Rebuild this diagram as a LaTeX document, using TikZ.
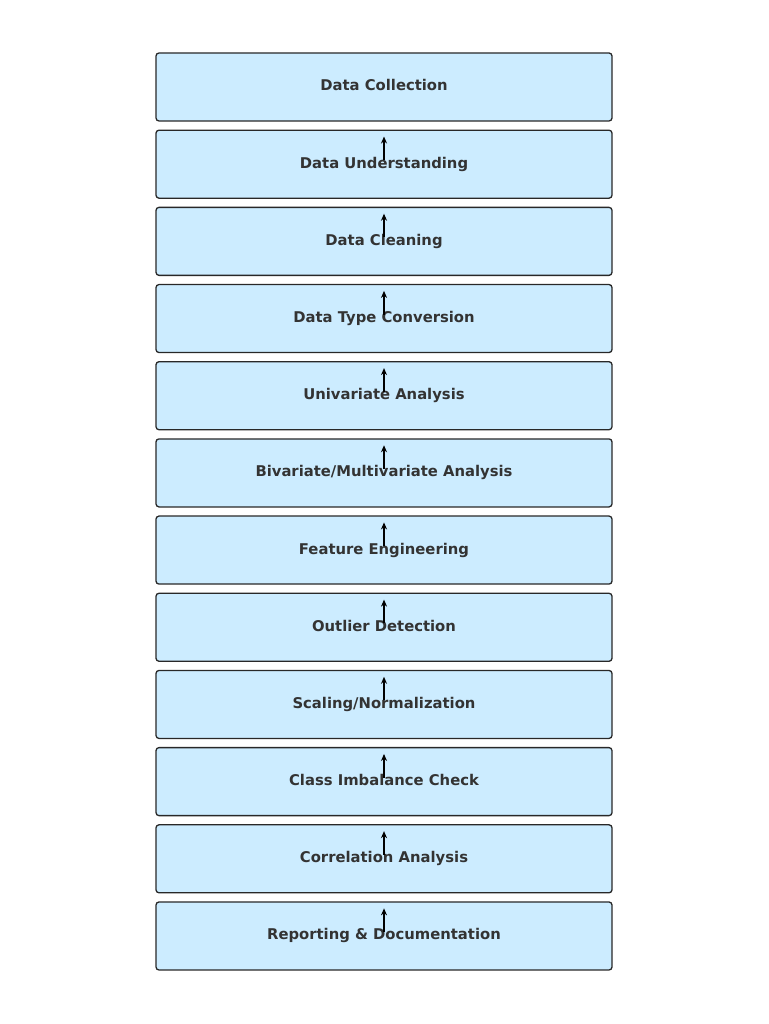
\documentclass[tikz,border=0pt]{standalone}
\usepackage{fontspec}
\setmainfont{DejaVu Sans}
\usetikzlibrary{arrows.meta,calc}
\definecolor{boxfill}{RGB}{204,236,255}
\definecolor{boxline}{RGB}{40,40,40}
\definecolor{txt}{RGB}{51,51,51}
\begin{document}
\begin{tikzpicture}[x=1pt,y=-1pt,
  stepbox/.style={draw=boxline,fill=boxfill,line width=1.3pt,rounded corners=3pt,
    minimum width=456pt,minimum height=68pt,inner sep=0pt,text height=11pt,text depth=3pt,
    font=\fontsize{14.8}{16}\selectfont\bfseries,text=txt},
  flow/.style={-{Stealth[length=7pt,width=6pt]},line width=1.5pt,black}]
\useasboundingbox (0,0) rectangle (768,1024);
\foreach \t [count=\i from 0] in {Data Collection,Data Understanding,Data Cleaning,Data Type Conversion,Univariate Analysis,Bivariate/Multivariate Analysis,Feature Engineering,Outlier Detection,Scaling/Normalization,Class Imbalance Check,Correlation Analysis,Reporting \& Documentation}{
  \node[stepbox] (b\i) at (384,{87+77.18*\i}) {\t};
}
\foreach \i in {1,...,11}{
  \coordinate (s\i) at ($(b\i.center)+(0,-4)$);
  \coordinate (e\i) at ($(b\i.north)+(0,7)$);
  \draw[flow] (s\i) -- (e\i);
}
\end{tikzpicture}
\end{document}
